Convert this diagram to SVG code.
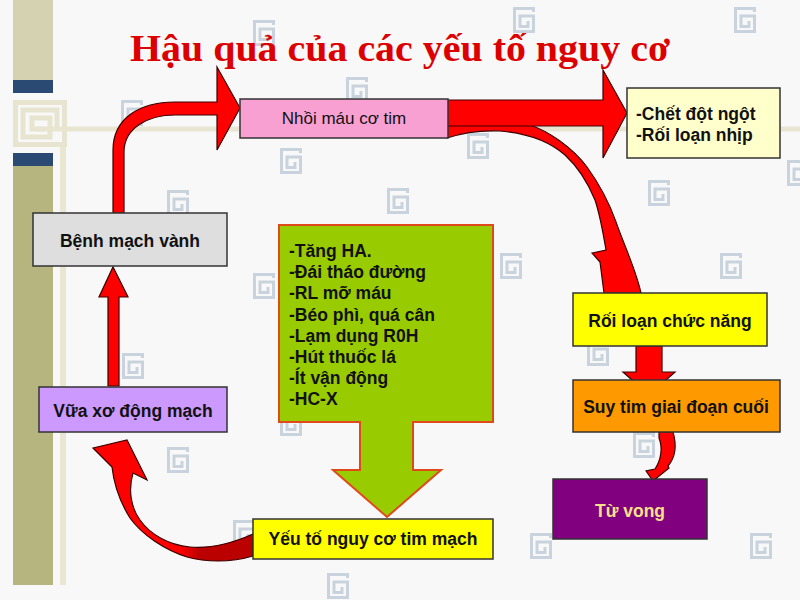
<svg xmlns="http://www.w3.org/2000/svg" width="800" height="600" viewBox="0 0 800 600">
<defs>
<style>
.lbl{font-family:"Liberation Sans",Arial,sans-serif;font-size:17.5px;font-weight:bold;fill:#111}
.box{stroke:#333;stroke-width:1.5}
.arr{fill:#ff0000;stroke:#3a0000;stroke-width:1.2;stroke-linejoin:miter}
.wm{fill:none;stroke:#c9d3de;stroke-width:3}
.deco{fill:none;stroke:#e7e5cf;stroke-width:5}
</style>
<symbol id="gk" viewBox="0 0 22 26" width="22" height="26">
<path class="wm" d="M20.5,5 V1.5 H1.5 V24.5 H20.5 V9 H7 V19.5 H15 V14"/>
</symbol>
<linearGradient id="twist" gradientUnits="userSpaceOnUse" x1="180" y1="0" x2="200" y2="0">
<stop offset="0" stop-color="#ff0000"/>
<stop offset="1" stop-color="#bb0000"/>
</linearGradient>
</defs>
<rect width="800" height="600" fill="#f8f8f8"/>
<g id="background">
<line x1="37" y1="129" x2="800" y2="129" stroke="#e8e6d2" stroke-width="5"/>
<rect x="13" y="0" width="40" height="80" fill="#d5d2b2"/>
<rect x="13" y="80" width="40" height="13" fill="#2b4a73"/>
<rect x="15.5" y="102.5" width="49" height="42" class="deco"/>
<path class="deco" d="M57,129 V110 H23 V137 H50 V118 H32 V129 H44"/>
<rect x="13" y="153" width="40" height="13" fill="#2b4a73"/>
<rect x="13" y="166" width="40" height="419" fill="#b6b47f"/>
<rect x="60" y="147" width="6" height="438" fill="#e9e7d2"/>
<use href="#gk" x="253" y="20"/>
<use href="#gk" x="513" y="7"/>
<use href="#gk" x="734" y="7"/>
<use href="#gk" x="121" y="100"/>
<use href="#gk" x="346" y="77"/>
<use href="#gk" x="280" y="148"/>
<use href="#gk" x="467" y="133"/>
<use href="#gk" x="648" y="180"/>
<use href="#gk" x="387" y="188"/>
<use href="#gk" x="167" y="190"/>
<use href="#gk" x="253" y="273"/>
<use href="#gk" x="500" y="253"/>
<use href="#gk" x="720" y="253"/>
<use href="#gk" x="122" y="353"/>
<use href="#gk" x="167" y="447"/>
<use href="#gk" x="633" y="432"/>
<use href="#gk" x="530" y="533"/>
<use href="#gk" x="750" y="533"/>
<use href="#gk" x="327" y="573"/>
<use href="#gk" x="233" y="520"/>
<use href="#gk" x="787" y="160"/>
<use href="#gk" x="280" y="410"/>
<use href="#gk" x="587" y="340"/>
</g>
<text x="400" y="61" text-anchor="middle" textLength="540" lengthAdjust="spacingAndGlyphs" style="font-family:'Liberation Serif','Times New Roman',serif;font-size:37px;font-weight:bold;fill:#dd0000">Hậu quả của các yếu tố nguy cơ</text>
<g id="connectors">
<path class="arr" d="M447,125 L530,125 C548,131 572,147 587,167 C600,185 610,205 616,222 C624,245 636,270 641,293 L604,293 L600,262 L592,253 L606,250 C603,232 600,215 595,200 C588,183 578,167 565,155 C548,140 525,133 500,131 C480,130 462,133 447,138 Z"/>
<path class="arr" d="M447,100 H603 V70 L627,113 L603,158 V126 H447 Z"/>
<path class="arr" d="M113,213 V150 C113,118 140,102 175,102 H217 V67 L240,108 L217,150 V115 H175 C148,115 124,128 124,152 V213 Z"/>
<path class="arr" d="M108,386 V297 H99 L113,267 L128,297 H119 V386 Z"/>
<path class="arr" style="fill:url(#twist)" d="M253,556 C230,563 205,562 187,557 C165,550 142,535 130,518 C120,502 114,485 112,467 L93,448 L127,440 L147,480 L133,473 C128,490 131,508 140,520 C150,534 168,545 190,547 C212,549 235,542 253,534 Z"/>
<path class="arr" d="M636,346 V372 H623 L649,395 L675,372 H662 V346 Z"/>
<path class="arr" d="M659,432 L673,432 C677,446 675,458 668,466 L669,468 L653,481 L646,471 L655,469 C661,460 663,448 659,438 Z"/>
</g>
<g id="risk-factors">
<path d="M279,225 H493 V422 H413 V470 H441 L387,517 L333,470 H360 V422 H279 Z" fill="#99cc00" stroke="#e04a1a" stroke-width="2"/>
<text class="lbl" x="289" y="257">-Tăng HA.</text>
<text class="lbl" x="289" y="278.2">-Đái tháo đường</text>
<text class="lbl" x="289" y="299.4">-RL mỡ máu</text>
<text class="lbl" x="289" y="320.6">-Béo phì, quá cân</text>
<text class="lbl" x="289" y="341.8">-Lạm dụng R0H</text>
<text class="lbl" x="289" y="363">-Hút thuốc lá</text>
<text class="lbl" x="289" y="384.2">-Ít vận động</text>
<text class="lbl" x="289" y="405.4">-HC-X</text>
</g>
<g id="nhoi-mau">
<rect class="box" x="240" y="99" width="208" height="39" fill="#f9a0d2"/>
<text class="lbl" x="344" y="124" text-anchor="middle" style="font-weight:normal;font-size:17px">Nhồi máu cơ tim</text>
</g>
<g id="chet-dot-ngot">
<rect class="box" x="627" y="88" width="153" height="70" fill="#ffffcc"/>
<text class="lbl" x="636" y="120">-Chết đột ngột</text>
<text class="lbl" x="636" y="141">-Rối loạn nhịp</text>
</g>
<g id="benh-mach-vanh">
<rect class="box" x="33" y="213" width="194" height="53" fill="#dedede"/>
<text class="lbl" x="130" y="247" text-anchor="middle">Bệnh mạch vành</text>
</g>
<g id="vua-xo">
<rect class="box" x="39" y="387" width="188" height="45" fill="#cc99ff"/>
<text class="lbl" x="133" y="417" text-anchor="middle">Vữa xơ động mạch</text>
</g>
<g id="yeu-to">
<rect class="box" x="253" y="519" width="240" height="40" fill="#ffff00"/>
<text class="lbl" x="373" y="545" text-anchor="middle">Yếu tố nguy cơ tim mạch</text>
</g>
<g id="roi-loan-chuc-nang">
<rect class="box" x="573" y="293" width="194" height="53" fill="#ffff00"/>
<text class="lbl" x="670" y="327" text-anchor="middle">Rối loạn chức năng</text>
</g>
<g id="suy-tim">
<rect class="box" x="573" y="380" width="207" height="52" fill="#ff9900"/>
<text class="lbl" x="676" y="413" text-anchor="middle">Suy tim giai đoạn cuối</text>
</g>
<g id="tu-vong">
<rect class="box" x="553" y="479" width="154" height="60" fill="#800080"/>
<text class="lbl" x="630" y="517" text-anchor="middle" style="fill:#f7e08a">Từ vong</text>
</g>
</svg>
